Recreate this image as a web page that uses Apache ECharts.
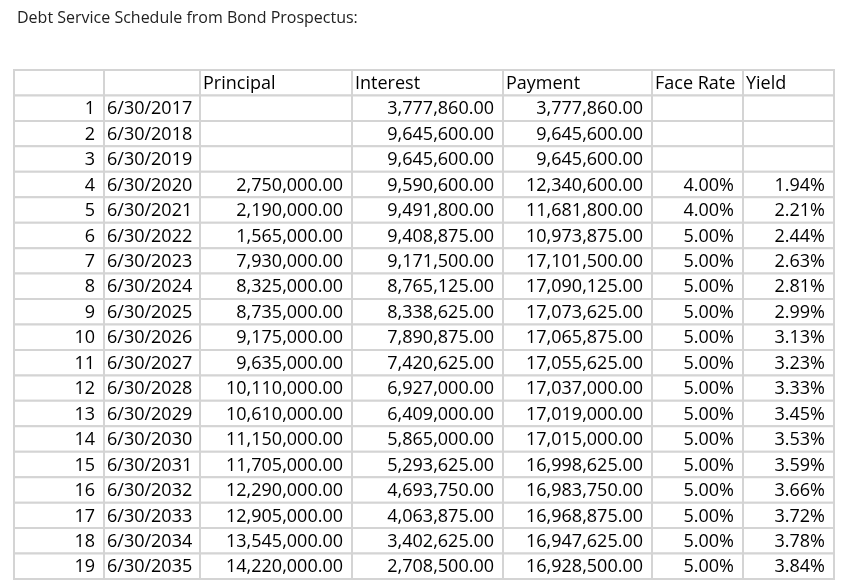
<!DOCTYPE html>
<html><head><meta charset="utf-8">
<script src="https://cdn.jsdelivr.net/npm/echarts@6/dist/echarts.min.js"></script>
<style>html,body{margin:0;padding:0;background:#fff}#c{width:862px;height:581px}</style>
</head><body><div id="c"></div>
<script>
const headers = ["", "", "Principal", "Interest", "Payment", "Face Rate", "Yield"];
const dates = ["6/30/2017","6/30/2018","6/30/2019","6/30/2020","6/30/2021","6/30/2022","6/30/2023","6/30/2024","6/30/2025","6/30/2026","6/30/2027","6/30/2028","6/30/2029","6/30/2030","6/30/2031","6/30/2032","6/30/2033","6/30/2034","6/30/2035"];
const principal = [null,null,null,2750000,2190000,1565000,7930000,8325000,8735000,9175000,9635000,10110000,10610000,11150000,11705000,12290000,12905000,13545000,14220000];
const interest = [3777860,9645600,9645600,9590600,9491800,9408875,9171500,8765125,8338625,7890875,7420625,6927000,6409000,5865000,5293625,4693750,4063875,3402625,2708500];
const payment = [3777860,9645600,9645600,12340600,11681800,10973875,17101500,17090125,17073625,17065875,17055625,17037000,17019000,17015000,16998625,16983750,16968875,16947625,16928500];
const faceRate = [null,null,null,4.00,4.00,5.00,5.00,5.00,5.00,5.00,5.00,5.00,5.00,5.00,5.00,5.00,5.00,5.00,5.00];
const yieldPct = [null,null,null,1.94,2.21,2.44,2.63,2.81,2.99,3.13,3.23,3.33,3.45,3.53,3.59,3.66,3.72,3.78,3.84];

const colEdges = [0, 90, 186, 338, 489, 638, 729, 820];
const money = v => v == null ? "" : v.toLocaleString("en-US",{minimumFractionDigits:2,maximumFractionDigits:2});
const pct = v => v == null ? "" : v.toFixed(2) + "%";

const cells = [];
headers.forEach((h, c) => cells.push([c, 0, h, "left"]));
dates.forEach((d, i) => {
  const r = i + 1;
  cells.push([0, r, String(r), "right"]);
  cells.push([1, r, d, "left"]);
  cells.push([2, r, money(principal[i]), "right"]);
  cells.push([3, r, money(interest[i]), "right"]);
  cells.push([4, r, money(payment[i]), "right"]);
  cells.push([5, r, pct(faceRate[i]), "right"]);
  cells.push([6, r, pct(yieldPct[i]), "right"]);
});

const chart = echarts.init(document.getElementById('c'), null, {renderer:'canvas'});
chart.setOption({
  animation:false,
  title:{text:"Debt Service Schedule from Bond Prospectus:", left:12, top:5,
    textStyle:{fontFamily:"Open Sans", fontSize:16, fontWeight:"normal", color:"#222"}},
  grid:{left:14, top:70, width:820, height:509},
  xAxis:{type:'value', min:0, max:820, show:false},
  yAxis:{type:'value', min:0, max:20, inverse:true, show:false},
  series:[{
    type:'custom',
    data:cells,
    renderItem:(params, api) => {
      const c = api.value(0), r = api.value(1);
      const p0 = api.coord([colEdges[c], r]);
      const p1 = api.coord([colEdges[c+1], r+1]);
      const align = cells[params.dataIndex][3];
      const text = cells[params.dataIndex][2];
      return {type:'group', children:[
        {type:'rect', shape:{x:p0[0], y:p0[1], width:p1[0]-p0[0], height:p1[1]-p0[1]},
          style:{fill:'#fff', stroke:'#d4d4d4', lineWidth:2}},
        {type:'text', style:{text:text, x: align==='left' ? p0[0]+3 : p1[0]-9,
          y:(p0[1]+p1[1])/2+1, align:align, verticalAlign:'middle',
          font:'18px "Open Sans"', fill:'#000'}}
      ]};
    }
  }]
});
</script></body></html>
